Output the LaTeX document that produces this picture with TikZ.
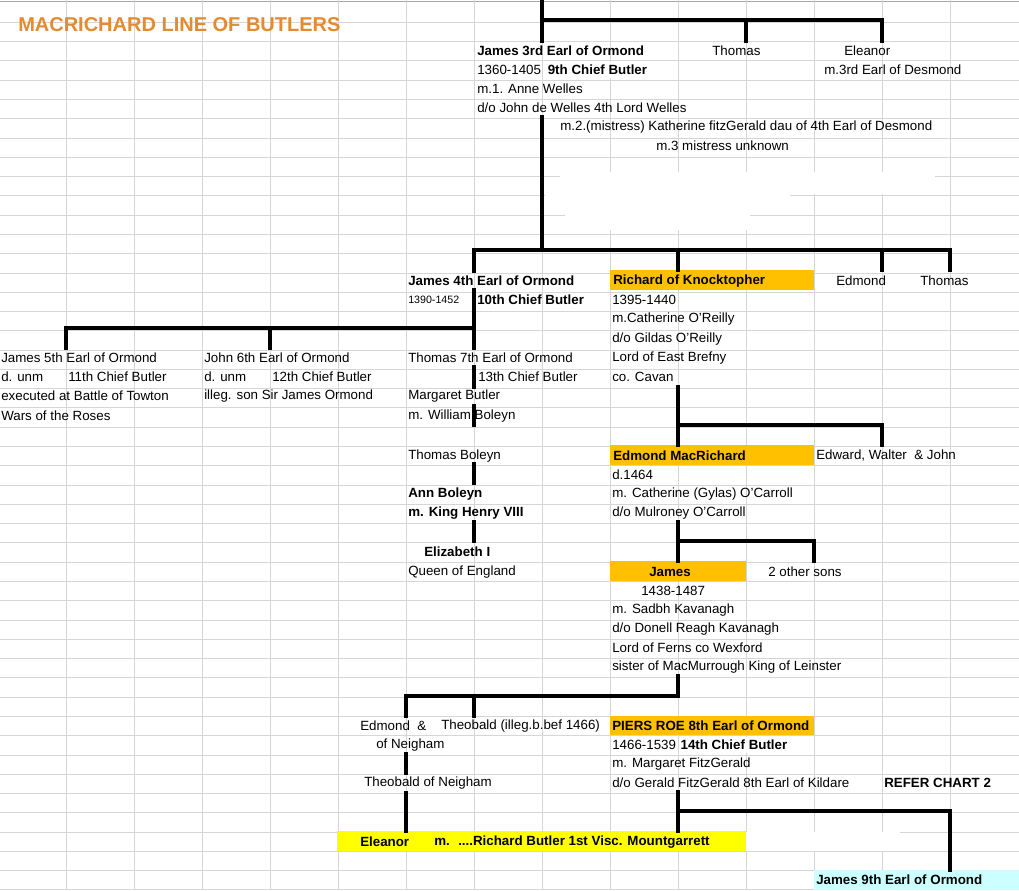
\documentclass[tikz,border=0pt]{standalone}
\usepackage{fontspec}
\setmainfont{Liberation Sans}
\definecolor{gridc}{HTML}{D6D6D6}
\definecolor{hl}{HTML}{FFC000}
\definecolor{yl}{HTML}{FFFF00}
\definecolor{cy}{HTML}{CCFFFF}
\definecolor{ttl}{HTML}{E38B2E}
\begin{document}
\begin{tikzpicture}[x=0.75pt,y=-0.75pt,
  t/.style={anchor=west,inner sep=0pt,font=\fontsize{10}{12}\selectfont},
  tb/.style={t,font=\fontsize{10}{12}\selectfont\bfseries},
  ts/.style={t,font=\fontsize{8}{10}\selectfont},
  wb/.style={fill=white,inner xsep=1pt,inner ysep=2pt},
  con/.style={line width=3pt,line cap=rect}]
\useasboundingbox (0,0) rectangle (1019,890);
\fill[white] (0,0) rectangle (1019,890);
% grid
\foreach \k in {0,...,44} \draw[gridc] (0,41.4+19.28*\k) -- (1019,41.4+19.28*\k);
\draw[gridc] (0,22) -- (1019,22);
\draw[gray!70] (0,1) -- (1019,1);
\foreach \j in {0,...,13} \draw[gridc] (66+68*\j,0) -- (66+68*\j,890);
% erased smudges
\fill[white] (560,172) rectangle (935,194);
\fill[white] (545,194) rectangle (790,212);
\fill[white] (565,212) rectangle (750,230);
\fill[white] (746,832) rectangle (900,851);
% highlights
\fill[hl] (610,270) rectangle (814,290);
\fill[hl] (610,445) rectangle (814,465);
\fill[hl] (610,561) rectangle (746,581);
\fill[cy] (814,870) rectangle (1019,890);
\fill[yl] (337,831) rectangle (746,851);
% title
\node[anchor=west,inner sep=0pt,text=ttl,font=\fontsize{15}{18}\selectfont\bfseries] (title) at (18,25) {MACRICHARD LINE OF BUTLERS};
% connectors
\coordinate (a0) at (542,0); \coordinate (a1) at (542,20); \coordinate (a2) at (882,20);
\draw[con] (a0) -- (542,41);
\draw[con] (a1) -- (a2) -- (882,41);
\draw[con] (746,20) -- (746,41);
\draw[con] (542,117) -- (542,250);
\draw[con] (474,250) -- (950,250) -- (950,270);
\draw[con] (678,250) -- (678,270); \draw[con] (882,250) -- (882,270);
\draw[con] (474,250) -- (474,271);
\draw[con] (474,290) -- (474,348);
\draw[con] (66,328) -- (474,328);
\draw[con] (66,328) -- (66,348); \draw[con] (270,328) -- (270,348);
\draw[con] (474,367) -- (474,387);
\draw[con] (474,406) -- (474,425);
\draw[con] (474,464) -- (474,483);
\draw[con] (474,522) -- (474,541);
\draw[con] (678,387) -- (678,445);
\draw[con] (678,425) -- (882,425) -- (882,445);
\draw[con] (678,522) -- (678,561);
\draw[con] (678,541) -- (814,541) -- (814,561);
\draw[con] (678,676) -- (678,696);
\draw[con] (406,696) -- (678,696);
\draw[con] (406,696) -- (406,716); \draw[con] (474,696) -- (474,716);
\draw[con] (406,754) -- (406,773);
\draw[con] (406,793) -- (406,831);
\draw[con] (678,792) -- (678,831);
\draw[con] (678,811) -- (950,811) -- (950,870);
% texts top
\node[tb] (j3) at (477,51) {James 3rd Earl of Ormond};
\node[t] (th1) at (712,51) {Thomas};
\node[t] (el1) at (844,51) {Eleanor};
\node[t] (j3d) at (477,70) {1360-1405};
\node[tb,wb,anchor=west] (j3b) at (544,70) {\,9th Chief Butler};
\node[t] (el1m) at (824,70) {m.3rd Earl of Desmond};
\node[t] (j3m1) at (477,89) {m.1. Anne Welles};
\node[t] (j3do) at (477,108) {d/o John de Welles 4th Lord Welles};
\node[t] (j3m2) at (560,127) {m.2.(mistress) Katherine fitzGerald dau of 4th Earl of Desmond};
\node[t] (j3m3) at (656,146) {m.3 mistress unknown};
\node[tb] (j4) at (408,281) {James 4th Earl of Ormond};
\node[tb] (rk) at (613,281) {Richard of Knocktopher};
\node[t] (ed1) at (836,281) {Edmond};
\node[t] (th2) at (920,281) {Thomas};
\node[ts] (j4d) at (408,300) {1390-1452};
\node[tb] (j4b) at (477,300) {10th Chief Butler};
\node[t] (rkd) at (612,300) {1395-1440};
\node[t] at (612,319) {m.Catherine O'Reilly};
\node[t] at (612,339) {d/o Gildas O'Reilly};
\node[t] at (612,358) {Lord of East Brefny};
\node[t] at (612,377) {co. Cavan};
\node[t] (j5) at (1,358) {James 5th Earl of Ormond};
\node[t] (j6) at (204,358) {John 6th Earl of Ormond};
\node[t] (t7) at (408,358) {Thomas 7th Earl of Ormond};
\node[t] at (1,377) {d. unm};
\node[t] at (68,377) {11th Chief Butler};
\node[t] at (204,377) {d. unm};
\node[t] at (272,377) {12th Chief Butler};
\node[t] at (478,377) {13th Chief Butler};
\node[t] at (1,396) {executed at Battle of Towton};
\node[t] at (204,396) {illeg. son Sir James Ormond};
\node[t] (mb) at (408,396) {Margaret Butler};
\node[t] at (1,416) {Wars of the Roses};
\node[t] at (408,416) {m. William Boleyn};
\node[t] (tb1) at (408,456) {Thomas Boleyn};
\node[tb] (emr) at (613,456) {Edmond MacRichard};
\node[t] (ewj) at (816,456) {Edward, Walter \ \& John};
\node[t] at (612,475) {d.1464};
\node[tb] (ab) at (408,494) {Ann Boleyn};
\node[t] at (612,494) {m. Catherine (Gylas) O'Carroll};
\node[tb] at (408,513) {m. King Henry VIII};
\node[t] at (612,513) {d/o Mulroney O'Carroll};
\node[tb] (eli) at (424,552) {Elizabeth I};
\node[t] at (408,572) {Queen of England};
\node[tb,anchor=center] (jam) at (670,572) {James};
\node[t] (oth) at (768,572) {2 other sons};
\node[t] at (641,591) {1438-1487};
\node[t] at (612,610) {m. Sadbh Kavanagh};
\node[t] at (612,629) {d/o Donell Reagh Kavanagh};
\node[t] at (612,648) {Lord of Ferns co Wexford};
\node[t] at (612,667) {sister of MacMurrough King of Leinster};
\node[t] (edn) at (360,726) {Edmond \ \&};
\node[t] (thb) at (441,726) {Theobald (illeg.b.bef 1466)};
\fill[hl] (610,716) rectangle (814,735);
\node[tb] (pr) at (612,726) {PIERS ROE 8th Earl of Ormond};
\node[t] at (376,745) {of Neigham};
\node[t] (prd) at (612,745) {1466-1539};
\node[tb,wb,anchor=west] at (679,745) {14th Chief Butler};
\node[t] at (612,764) {m. Margaret FitzGerald};
\node[t] (thn) at (364,783) {Theobald of Neigham};
\node[t] at (612,783) {d/o Gerald FitzGerald 8th Earl of Kildare};
\node[tb] (rc) at (884,783) {REFER CHART 2};
\node[tb] (el2) at (360,842) {Eleanor};
\node[tb] (el2m) at (434,842) {m.};
\node[tb] (rb) at (458,842) {....Richard Butler 1st Visc. Mountgarrett};
\node[tb] (j9) at (816,880) {James 9th Earl of Ormond};
\end{tikzpicture}
\end{document}
